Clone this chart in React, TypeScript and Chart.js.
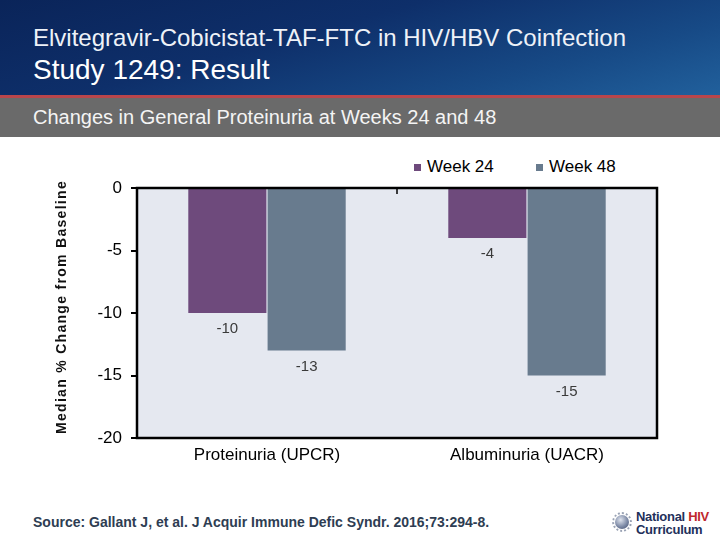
import { useEffect, useRef } from 'react';
import { Chart, registerables } from 'chart.js';

Chart.register(...registerables);

// ---- chart data ----
const categories = ['Proteinuria (UPCR)', 'Albuminuria (UACR)'];
const seriesNames = ['Week 24', 'Week 48'];
const week24 = [-10, -4];
const week48 = [-13, -15];
const seriesColors = ['#6e4a7c', '#687b8e'];
const yMin = -20;
const yMax = 0;
const yStep = 5;
const yAxisTitle = 'Median % Change from Baseline';

const FONT = '"Liberation Sans", Arial, Helvetica, sans-serif';

// Plot background, value labels, closed frame and the vertical axis title.
const framePlugin = {
  id: 'frame',
  beforeDatasetsDraw(chart: any) {
    const { ctx, chartArea: a } = chart;
    ctx.save();
    ctx.fillStyle = '#e5e8f0';
    ctx.fillRect(a.left, a.top, a.right - a.left, a.bottom - a.top);
    ctx.restore();
  },
  afterDatasetsDraw(chart: any) {
    const { ctx, chartArea: a } = chart;
    ctx.save();

    // value labels under each bar end
    ctx.font = `15px ${FONT}`;
    ctx.fillStyle = '#3a3a3a';
    ctx.textAlign = 'center';
    ctx.textBaseline = 'middle';
    chart.data.datasets.forEach((ds: any, i: number) => {
      const meta = chart.getDatasetMeta(i);
      meta.data.forEach((el: any, j: number) => {
        ctx.fillText(String(ds.data[j]), el.x, el.y + 16);
      });
    });

    // frame
    ctx.strokeStyle = '#000';
    ctx.lineWidth = 2.5;
    ctx.strokeRect(a.left, a.top, a.right - a.left, a.bottom - a.top);

    // category divider tick on the zero line
    const xs = chart.scales.x;
    const mid = (xs.getPixelForValue(0) + xs.getPixelForValue(1)) / 2;
    ctx.lineWidth = 1.5;
    ctx.beginPath();
    ctx.moveTo(mid, a.top);
    ctx.lineTo(mid, a.top + 6);
    ctx.stroke();

    // y axis title
    ctx.translate(62, (a.top + a.bottom) / 2 - 6);
    ctx.rotate(-Math.PI / 2);
    ctx.font = `bold 14px ${FONT}`;
    (ctx as any).letterSpacing = '1.3px';
    ctx.fillStyle = '#111';
    ctx.textAlign = 'center';
    ctx.textBaseline = 'middle';
    ctx.fillText(yAxisTitle, 0, 0);
    ctx.restore();
  },
};

function ProteinuriaChart() {
  const canvasRef = useRef<HTMLCanvasElement | null>(null);

  useEffect(() => {
    if (!canvasRef.current) return;
    Chart.defaults.font.family = FONT;
    const chart = new Chart(canvasRef.current, {
      type: 'bar',
      data: {
        labels: categories,
        datasets: [
          {
            label: seriesNames[0],
            data: week24,
            backgroundColor: seriesColors[0],
            borderWidth: 0,
            barPercentage: 0.985,
            categoryPercentage: 0.61,
          },
          {
            label: seriesNames[1],
            data: week48,
            backgroundColor: seriesColors[1],
            borderWidth: 0,
            barPercentage: 0.985,
            categoryPercentage: 0.61,
          },
        ],
      },
      options: {
        animation: false,
        responsive: true,
        maintainAspectRatio: false,
        layout: { padding: { top: 48, right: 63, bottom: 0, left: 0 } },
        plugins: {
          legend: { display: false },
          tooltip: { enabled: false },
        },
        scales: {
          x: {
            grid: { display: false, drawTicks: false },
            border: { display: false },
            ticks: { color: '#000', font: { size: 17 }, padding: 7 },
            afterFit: (s: any) => {
              s.height = 42;
            },
          },
          y: {
            min: yMin,
            max: yMax,
            grid: {
              drawOnChartArea: false,
              drawTicks: true,
              tickLength: 6,
              color: '#000',
              lineWidth: 2,
            },
            border: { display: false },
            ticks: { stepSize: yStep, color: '#000', font: { size: 17 }, padding: 9 },
            afterFit: (s: any) => {
              s.width = 137;
            },
          },
        },
      },
      plugins: [framePlugin],
    });
    return () => chart.destroy();
  }, []);

  return <canvas ref={canvasRef} />;
}

function Legend() {
  const left = [414, 536];
  return (
    <>
      {seriesNames.map((name, i) => (
        <div
          key={name}
          style={{
            position: 'absolute',
            left: left[i],
            top: 157,
            height: 20,
            display: 'flex',
            alignItems: 'center',
            fontSize: 17,
            lineHeight: '20px',
            color: '#000',
          }}
        >
          <span
            style={{
              display: 'inline-block',
              width: 7,
              height: 7,
              background: seriesColors[i],
              marginRight: 6,
            }}
          />
          {name}
        </div>
      ))}
    </>
  );
}

function Logo() {
  return (
    <div style={{ position: 'absolute', left: 608, top: 508, width: 112, height: 30 }}>
      <div
        style={{
          position: 'absolute',
          left: 4,
          top: 4,
          width: 20,
          height: 20,
          borderRadius: '50%',
          border: '2px dotted #9aa3b5',
          boxSizing: 'border-box',
        }}
      />
      <div
        style={{
          position: 'absolute',
          left: 7,
          top: 7,
          width: 14,
          height: 14,
          borderRadius: '50%',
          background: 'radial-gradient(circle at 40% 35%, #dfe4ee 0%, #7d8aa6 55%, #3d4a6a 100%)',
        }}
      />
      <div
        style={{
          position: 'absolute',
          left: 28,
          top: 2,
          fontWeight: 'bold',
          fontSize: 13,
          lineHeight: '13px',
          color: '#22305a',
          whiteSpace: 'nowrap',
          letterSpacing: '-0.3px',
        }}
      >
        National <span style={{ color: '#c0282d' }}>HIV</span>
        <br />
        Curriculum
      </div>
    </div>
  );
}

export default function App() {
  return (
    <div
      style={{
        position: 'fixed',
        left: 0,
        top: 0,
        width: 720,
        height: 540,
        background: '#fff',
        overflow: 'hidden',
        fontFamily: FONT,
      }}
    >
      {/* title band */}
      <div
        style={{
          position: 'absolute',
          left: 0,
          top: 0,
          width: 720,
          height: 95,
          background: 'linear-gradient(165deg, #0a2459 0%, #0e2f6a 40%, #174a86 75%, #21609c 100%)',
        }}
      />
      <div
        style={{
          position: 'absolute',
          left: 33,
          top: 26,
          fontSize: 24,
          lineHeight: '24px',
          color: '#eef2f8',
          whiteSpace: 'nowrap',
        }}
      >
        Elvitegravir-Cobicistat-TAF-FTC in HIV/HBV Coinfection
      </div>
      <div
        style={{
          position: 'absolute',
          left: 33,
          top: 56,
          fontSize: 28,
          lineHeight: '28px',
          color: '#ffffff',
          whiteSpace: 'nowrap',
        }}
      >
        Study 1249: Result
      </div>
      <div style={{ position: 'absolute', left: 0, top: 95, width: 720, height: 3, background: '#b9464b' }} />
      <div style={{ position: 'absolute', left: 0, top: 98, width: 720, height: 39, background: '#6a6a6a' }} />
      <div
        style={{
          position: 'absolute',
          left: 33,
          top: 107,
          fontSize: 20,
          lineHeight: '20px',
          color: '#f4f4f4',
          whiteSpace: 'nowrap',
        }}
      >
        Changes in General Proteinuria at Weeks 24 and 48
      </div>

      <Legend />

      <div style={{ position: 'absolute', left: 0, top: 140, width: 720, height: 340 }}>
        <ProteinuriaChart />
      </div>

      <div
        style={{
          position: 'absolute',
          left: 33,
          top: 515,
          fontSize: 14,
          lineHeight: '14px',
          fontWeight: 'bold',
          color: '#2e3d52',
          whiteSpace: 'nowrap',
        }}
      >
        Source: Gallant J, et al. J Acquir Immune Defic Syndr. 2016;73:294-8.
      </div>

      <Logo />
    </div>
  );
}
